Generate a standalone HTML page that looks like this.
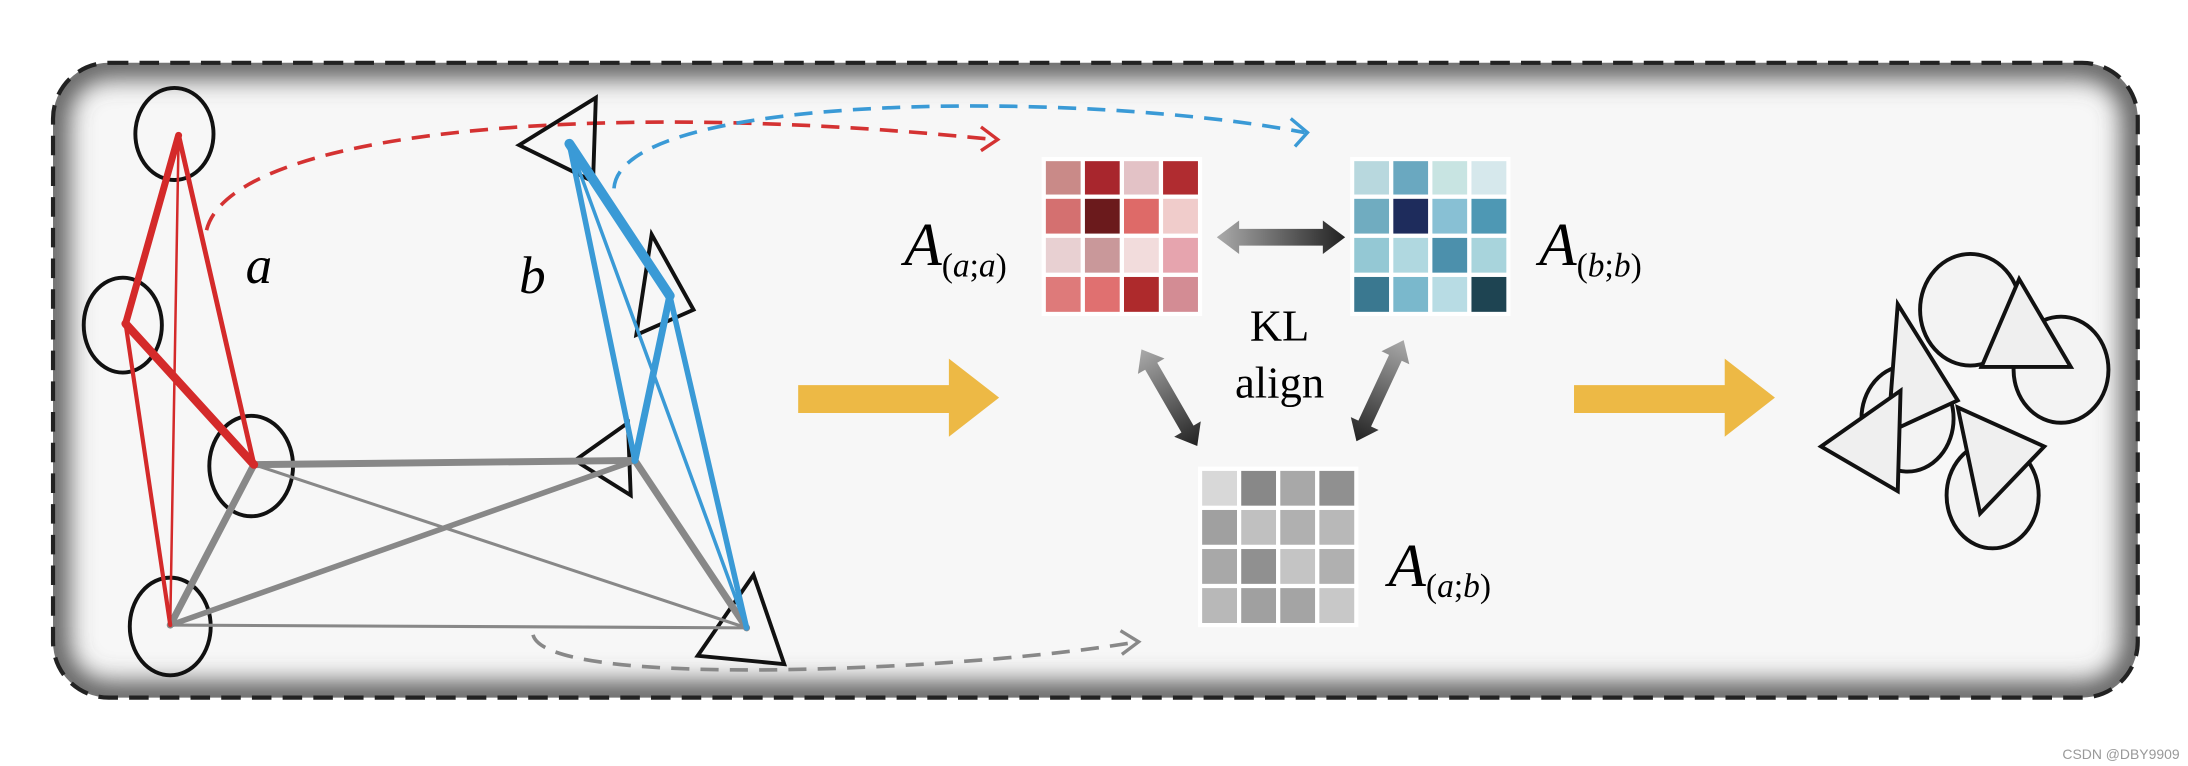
<!DOCTYPE html>
<html><head><meta charset="utf-8"><style>
html,body{margin:0;padding:0;background:#fff;width:2188px;height:766px;overflow:hidden}
svg{display:block}
text{font-family:"Liberation Serif",serif}
</style></head><body>
<svg width="2188" height="766" viewBox="0 0 1568 549" preserveAspectRatio="none" xmlns="http://www.w3.org/2000/svg">
<defs>
<filter id="blur" x="-10%" y="-10%" width="120%" height="120%"><feGaussianBlur stdDeviation="9"/></filter>
<clipPath id="clip"><rect x="38" y="45" width="1494" height="455" rx="40"/></clipPath>
<linearGradient id="dg" x1="0" y1="0" x2="1" y2="0"><stop offset="0" stop-color="#aaa"/><stop offset="1" stop-color="#222"/></linearGradient>
</defs>
<rect x="0" y="0" width="1568" height="549" fill="#fff"/>
<g clip-path="url(#clip)">
<rect x="38" y="45" width="1494" height="455" rx="40" fill="#f7f7f7"/>
<rect x="38" y="45" width="1494" height="455" rx="40" fill="none" stroke="#555" stroke-width="22" filter="url(#blur)"/>
</g>
<rect x="38" y="45" width="1494" height="455" rx="40" fill="none" stroke="#222" stroke-width="3" stroke-dasharray="14 8"/>

<path d="M148,165 C165,95 420,70 712,100" fill="none" stroke="#d43232" stroke-width="2.6" stroke-dasharray="13 8"/>
<path d="M703,91 L715,100 L703,108" fill="none" stroke="#d43232" stroke-width="2.4"/>
<path d="M440,135 C445,65 780,65 935,95" fill="none" stroke="#3a9ad6" stroke-width="2.6" stroke-dasharray="13 8"/>
<path d="M925,85 L937,95 L928,105" fill="none" stroke="#3a9ad6" stroke-width="2.4"/>
<path d="M382,455 C392,495 700,480 815,460" fill="none" stroke="#888" stroke-width="2.6" stroke-dasharray="13 8"/>
<path d="M803,452 L816,460 L804,469" fill="none" stroke="#888" stroke-width="2.4"/>

<g fill="none" stroke="#111" stroke-width="2.8">
<ellipse cx="125" cy="96" rx="28" ry="33"/>
<ellipse cx="88" cy="233" rx="28" ry="34"/>
<ellipse cx="180" cy="334" rx="30" ry="36"/>
<ellipse cx="122" cy="449" rx="29" ry="35"/>
<polygon points="372,104 427,70 425,130"/>
<polygon points="467,168 497,222 456,240"/>
<polygon points="412,330 450,303 452,355"/>
<polygon points="500,470 540,412 562,476"/>
</g>
<g stroke="#888" stroke-linecap="round">
<line x1="182" y1="333" x2="455" y2="330" stroke-width="5"/>
<line x1="182" y1="333" x2="122" y2="448" stroke-width="5"/>
<line x1="182" y1="333" x2="535" y2="450" stroke-width="2.2"/>
<line x1="122" y1="448" x2="455" y2="330" stroke-width="4"/>
<line x1="122" y1="448" x2="535" y2="450" stroke-width="2.2"/>
<line x1="455" y1="330" x2="535" y2="450" stroke-width="5"/>
</g>
<g stroke="#d42a2a" stroke-linecap="round">
<line x1="128" y1="97" x2="90" y2="232" stroke-width="5"/>
<line x1="90" y1="232" x2="182" y2="333" stroke-width="6"/>
<line x1="128" y1="97" x2="182" y2="333" stroke-width="3.5"/>
<line x1="128" y1="97" x2="122" y2="448" stroke-width="1.8"/>
<line x1="90" y1="232" x2="122" y2="448" stroke-width="3"/>
</g>
<g stroke="#3a9ad6" stroke-linecap="round">
<line x1="408" y1="103" x2="480" y2="212" stroke-width="7"/>
<line x1="480" y1="212" x2="455" y2="330" stroke-width="5"/>
<line x1="408" y1="103" x2="455" y2="330" stroke-width="4"/>
<line x1="408" y1="103" x2="535" y2="450" stroke-width="2.5"/>
<line x1="480" y1="212" x2="535" y2="450" stroke-width="4"/>
</g>
<text x="176" y="203" font-size="38" font-style="italic">a</text>
<text x="372" y="210" font-size="38" font-style="italic">b</text>

<g fill="#edb945">
<polygon points="572,276 680,276 680,257 716,285 680,313 680,296 572,296"/>
<polygon points="1128,276 1236,276 1236,257 1272,285 1236,313 1236,296 1128,296"/>
</g>

<g stroke="#fff" stroke-width="3">
<rect x="748" y="114" width="28" height="27" fill="#c98a88"/><rect x="776" y="114" width="28" height="27" fill="#a8262d"/><rect x="804" y="114" width="28" height="27" fill="#e3c2c6"/><rect x="832" y="114" width="28" height="27" fill="#b02c30"/>
<rect x="748" y="141" width="28" height="28" fill="#d47070"/><rect x="776" y="141" width="28" height="28" fill="#6b1a1c"/><rect x="804" y="141" width="28" height="28" fill="#de6a68"/><rect x="832" y="141" width="28" height="28" fill="#f0cccb"/>
<rect x="748" y="169" width="28" height="28" fill="#e8d0d2"/><rect x="776" y="169" width="28" height="28" fill="#c9989a"/><rect x="804" y="169" width="28" height="28" fill="#f2dcdc"/><rect x="832" y="169" width="28" height="28" fill="#e6a4ae"/>
<rect x="748" y="197" width="28" height="28" fill="#de7a7a"/><rect x="776" y="197" width="28" height="28" fill="#e07070"/><rect x="804" y="197" width="28" height="28" fill="#ae2a2c"/><rect x="832" y="197" width="28" height="28" fill="#d38c94"/>

<rect x="969" y="114" width="28" height="27" fill="#b8d8de"/><rect x="997" y="114" width="28" height="27" fill="#6aa8c0"/><rect x="1025" y="114" width="28" height="27" fill="#c8e4e2"/><rect x="1053" y="114" width="28" height="27" fill="#d6e8ec"/>
<rect x="969" y="141" width="28" height="28" fill="#70acc0"/><rect x="997" y="141" width="28" height="28" fill="#1e2c5c"/><rect x="1025" y="141" width="28" height="28" fill="#88c0d4"/><rect x="1053" y="141" width="28" height="28" fill="#4e98b4"/>
<rect x="969" y="169" width="28" height="28" fill="#94c8d4"/><rect x="997" y="169" width="28" height="28" fill="#b0d8e0"/><rect x="1025" y="169" width="28" height="28" fill="#4c90ac"/><rect x="1053" y="169" width="28" height="28" fill="#a8d4dc"/>
<rect x="969" y="197" width="28" height="28" fill="#3a7890"/><rect x="997" y="197" width="28" height="28" fill="#7ab8cc"/><rect x="1025" y="197" width="28" height="28" fill="#b8dce4"/><rect x="1053" y="197" width="28" height="28" fill="#1e4452"/>

<rect x="860" y="336" width="28" height="28" fill="#d8d8d8"/><rect x="888" y="336" width="28" height="28" fill="#888"/><rect x="916" y="336" width="28" height="28" fill="#a8a8a8"/><rect x="944" y="336" width="28" height="28" fill="#909090"/>
<rect x="860" y="364" width="28" height="28" fill="#a0a0a0"/><rect x="888" y="364" width="28" height="28" fill="#c0c0c0"/><rect x="916" y="364" width="28" height="28" fill="#b0b0b0"/><rect x="944" y="364" width="28" height="28" fill="#b8b8b8"/>
<rect x="860" y="392" width="28" height="28" fill="#a8a8a8"/><rect x="888" y="392" width="28" height="28" fill="#909090"/><rect x="916" y="392" width="28" height="28" fill="#c4c4c4"/><rect x="944" y="392" width="28" height="28" fill="#b0b0b0"/>
<rect x="860" y="420" width="28" height="28" fill="#b8b8b8"/><rect x="888" y="420" width="28" height="28" fill="#a0a0a0"/><rect x="916" y="420" width="28" height="28" fill="#a4a4a4"/><rect x="944" y="420" width="28" height="28" fill="#c8c8c8"/>
</g>

<text x="648" y="190" font-size="44" font-style="italic">A<tspan font-size="24" dy="8" font-style="normal">(<tspan font-style="italic">a</tspan>;<tspan font-style="italic">a</tspan>)</tspan></text>
<text x="1103" y="190" font-size="44" font-style="italic">A<tspan font-size="24" dy="8" font-style="normal">(<tspan font-style="italic">b</tspan>;<tspan font-style="italic">b</tspan>)</tspan></text>
<text x="995" y="420" font-size="44" font-style="italic">A<tspan font-size="24" dy="8" font-style="normal">(<tspan font-style="italic">a</tspan>;<tspan font-style="italic">b</tspan>)</tspan></text>
<text x="917" y="244" font-size="32" text-anchor="middle">KL</text>
<text x="917" y="285" font-size="32" text-anchor="middle">align</text>

<polygon points="872,170 888,158 888,164 948,164 948,158 964,170 948,182 948,176 888,176 888,182" fill="url(#dg)"/>
<g transform="translate(838,285) rotate(60)"><polygon points="-40,0 -26,-11 -26,-5 26,-5 26,-11 40,0 26,11 26,5 -26,5 -26,11" fill="url(#dg)"/></g>
<g transform="translate(989,280) rotate(-65)"><polygon points="-40,0 -26,-11 -26,-5 26,-5 26,-11 40,0 26,11 26,5 -26,5 -26,11" fill="url(#dg)" transform="scale(-1,1)"/></g>

<g stroke="#111" stroke-width="2.8">
<ellipse cx="1412" cy="222" rx="36" ry="40" fill="#f3f3f3"/>
<ellipse cx="1477" cy="265" rx="34" ry="38" fill="#f3f3f3"/>
<ellipse cx="1367" cy="300" rx="33" ry="38" fill="#f3f3f3"/>
<ellipse cx="1428" cy="355" rx="33" ry="38" fill="#f3f3f3"/>
<polygon points="1360,218 1403,287 1353,310" fill="#efefef"/>
<polygon points="1447,200 1484,263 1420,263" fill="#efefef"/>
<polygon points="1305,320 1362,280 1360,352" fill="#efefef"/>
<polygon points="1403,292 1465,320 1419,368" fill="#efefef"/>
</g>
<text x="1478" y="544" font-size="10" fill="#999" style="font-family:'Liberation Sans',sans-serif">CSDN @DBY9909</text>
</svg>
</body></html>
